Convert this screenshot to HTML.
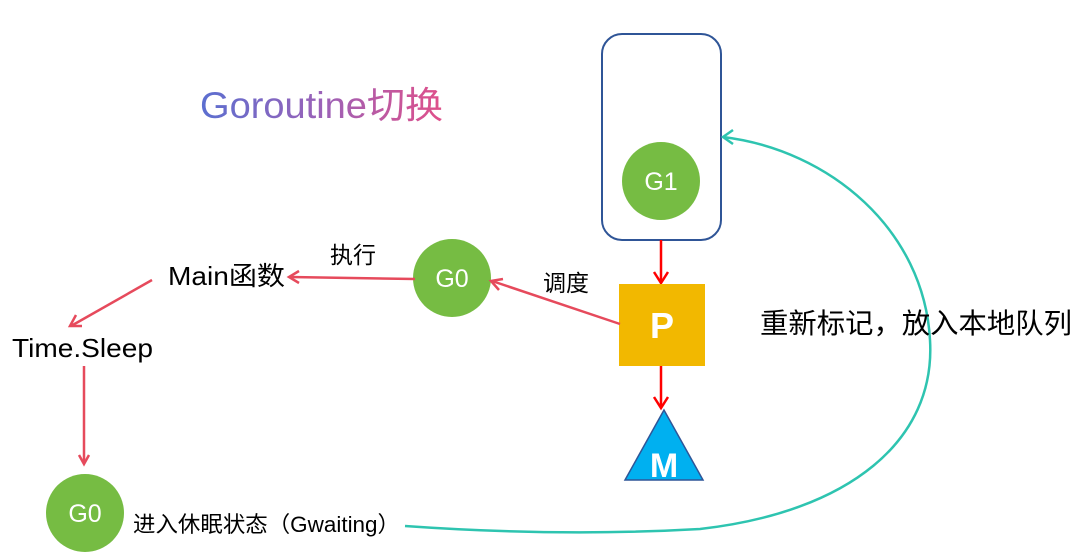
<!DOCTYPE html>
<html><head><meta charset="utf-8"><style>
html,body{margin:0;padding:0;background:#fff;}
svg{display:block;font-family:"Liberation Sans","Noto Sans CJK SC",sans-serif;}
</style></head><body>
<svg width="1082" height="558" viewBox="0 0 1082 558" xmlns="http://www.w3.org/2000/svg">
<defs>
<linearGradient id="tg" x1="0" x2="1" y1="0" y2="0">
<stop offset="0" stop-color="#5B6FD0"/><stop offset="0.5" stop-color="#9B62B8"/><stop offset="1" stop-color="#E0508A"/>
</linearGradient>
</defs>
<text x="200" y="118" font-size="37" fill="url(#tg)" textLength="243" lengthAdjust="spacingAndGlyphs">Goroutine切换</text>
<rect x="602" y="34" width="119" height="206" rx="20" fill="none" stroke="#2F5597" stroke-width="2"/>
<circle cx="661" cy="181" r="39" fill="#76BC43"/>
<text x="661" y="190" font-size="25" fill="#fff" text-anchor="middle">G1</text>
<g stroke="#FF0000" stroke-width="2.5" fill="none">
<line x1="661" y1="240" x2="661" y2="282"/><polyline points="654,272 661,283 668,272"/>
<line x1="661" y1="366" x2="661" y2="407"/><polyline points="654,397 661,408 668,397"/>
</g>
<rect x="619" y="284" width="86" height="82" fill="#F2B800"/>
<text x="662" y="338" font-size="36" font-weight="bold" fill="#fff" text-anchor="middle">P</text>
<polygon points="664,410 625,480 703,480" fill="#00B0F0" stroke="#2F5597" stroke-width="1.5"/>
<text x="664" y="477" font-size="34" font-weight="bold" fill="#fff" text-anchor="middle">M</text>
<circle cx="452" cy="278" r="39" fill="#76BC43"/>
<text x="452" y="287" font-size="25" fill="#fff" text-anchor="middle">G0</text>
<circle cx="85" cy="513" r="39" fill="#76BC43"/>
<text x="85" y="522" font-size="25" fill="#fff" text-anchor="middle">G0</text>
<g stroke="#E64A5C" stroke-width="2.5" fill="none">
<line x1="620" y1="324" x2="492" y2="281"/><polyline points="499,290 491,281 503,279"/>
<line x1="415" y1="279" x2="290" y2="277"/><polyline points="299,271 289,277 299,283"/>
<line x1="152" y1="280" x2="71" y2="326"/><polyline points="76,315 70,326 82,326"/>
<line x1="84" y1="366" x2="84" y2="463"/><polyline points="79,455 84,464 89,455"/>
</g>
<text x="330" y="263" font-size="23" fill="#000">执行</text>
<text x="543" y="291" font-size="23" fill="#000">调度</text>
<text x="168" y="285" font-size="26" fill="#000" textLength="117" lengthAdjust="spacingAndGlyphs">Main函数</text>
<text x="12" y="357" font-size="26" fill="#000" textLength="141" lengthAdjust="spacingAndGlyphs">Time.Sleep</text>
<text x="133" y="532" font-size="22" fill="#000" textLength="267" lengthAdjust="spacingAndGlyphs">进入休眠状态（Gwaiting）</text>
<path d="M405,526 Q560,537 700,529 C850,512 936,440 930,340 C924,230 830,150 723,137" fill="none" stroke="#2EC4B0" stroke-width="2.5"/>
<polyline points="733,130 723,137 733,144" fill="none" stroke="#2EC4B0" stroke-width="2.5"/>
<text x="760" y="333" font-size="28" fill="#000" textLength="312" lengthAdjust="spacingAndGlyphs">重新标记，放入本地队列</text>
</svg>
</body></html>
